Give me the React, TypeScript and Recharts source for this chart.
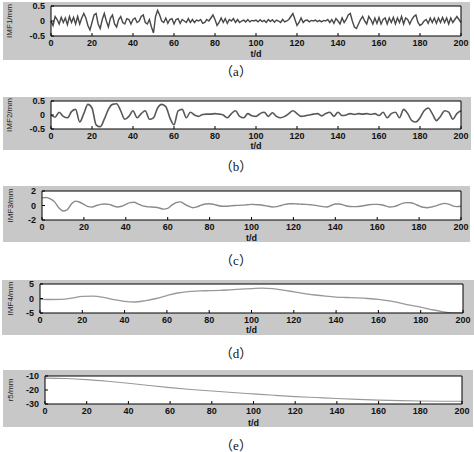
import React from 'react';
import { LineChart, Line, XAxis, YAxis, CartesianGrid } from 'recharts';

const T_TICKS = [0, 20, 40, 60, 80, 100, 120, 140, 160, 180, 200];

// IMF1 (t = 0..200, step 1)
const IMF1 = [
  0.0, -0.15, 0.15, 0.05, -0.1, 0.12, -0.05, 0.1, -0.12, 0.15,
  -0.05, 0.12, -0.1, 0.15, -0.1, 0.1, 0.25, 0.1, -0.15, -0.3,
  -0.05, 0.2, 0.25, -0.1, -0.25, 0.05, 0.25, 0.0, -0.2, 0.1,
  0.2, -0.1, -0.2, 0.05, 0.15, -0.05, -0.1, 0.08, 0.05, -0.1,
  0.05, 0.1, -0.05, 0.0, 0.15, 0.2, -0.05, -0.1, 0.05, -0.2,
  -0.4, 0.15, 0.35, 0.2, 0.0, -0.05, 0.1, -0.08, 0.05, 0.08,
  -0.1, 0.05, 0.08, -0.08, 0.05, 0.0, -0.05, 0.08, -0.05, 0.05,
  -0.05, 0.03, 0.0, 0.05, -0.08, -0.05, 0.05, 0.0, 0.1, 0.2,
  0.05, -0.15, -0.05, 0.1, -0.05, 0.08, -0.08, 0.05, 0.0, 0.08,
  -0.05, 0.05, -0.05, 0.0, 0.03, -0.03, 0.05, -0.03, 0.02, 0.0,
  0.03, -0.03, 0.04, -0.02, 0.02, -0.05, 0.05, -0.02, 0.04, -0.04,
  0.03, 0.0, -0.05, 0.05, -0.03, 0.0, 0.05, 0.15, 0.25, 0.05,
  -0.15, -0.05, 0.1, -0.05, 0.02, 0.03, -0.03, 0.02, 0.0, 0.03,
  -0.02, 0.02, -0.03, 0.02, 0.0, 0.05, -0.05, 0.05, -0.08, 0.08,
  0.0, -0.1, 0.1, -0.05, 0.05, 0.2, 0.25, 0.0, -0.2, -0.25,
  -0.1, 0.05, 0.15, 0.0, -0.1, 0.15, 0.05, -0.1, 0.1, -0.08,
  0.12, -0.1, 0.05, 0.1, -0.1, 0.1, -0.05, 0.12, -0.1, 0.1,
  -0.05, 0.15, -0.1, 0.1, 0.05, -0.1, 0.05, 0.15, 0.2, -0.05,
  -0.15, -0.1, 0.0, 0.05, -0.08, 0.1, -0.05, 0.1, -0.08, 0.1,
  -0.05, 0.12, -0.05, 0.1, -0.1, 0.1, -0.05, 0.05, 0.15, 0.05,
  -0.05,
];

// IMF2 (t = 0..200, step 2)
const IMF2 = [
  0.0, -0.08, 0.1, -0.05, -0.1, 0.12, 0.2, -0.25, 0.05, 0.38,
  0.25, -0.35, -0.42, -0.15, 0.2, 0.38, 0.4, 0.15, -0.15, -0.05,
  0.15, -0.1, 0.05, 0.15, -0.15, -0.1, 0.25, 0.38, 0.3, -0.1,
  -0.35, 0.15, 0.2, -0.1, 0.1, 0.0, -0.05, 0.02, 0.03, 0.03,
  0.05, 0.03, 0.0, -0.1, 0.05, 0.15, -0.05, -0.1, 0.05, -0.03,
  -0.05, 0.05, 0.1, -0.05, 0.08, -0.05, -0.1, -0.05, 0.05, 0.15,
  0.05, -0.05, -0.03, 0.0, 0.03, 0.05, -0.03, 0.05, 0.1, -0.05,
  0.1, -0.02, 0.0, 0.05, 0.02, 0.05, 0.03, 0.05, 0.02, 0.05,
  -0.02, 0.1, -0.1, 0.05, 0.1, -0.1, 0.2, 0.05, -0.2, -0.25,
  -0.1, 0.15, 0.25, 0.05, -0.2, -0.05, 0.15, 0.1, -0.15, 0.05,
  0.15,
];

// IMF3 (t = 0..200, step 2)
const IMF3 = [
  1.05, 1.1, 0.9, 0.5, -0.3, -0.75, -0.6, 0.2, 0.6, 0.45,
  0.15, -0.15, -0.2, 0.0, 0.15, 0.2, 0.15, -0.05, -0.2, -0.1,
  0.15, 0.4, 0.45, 0.2, -0.05, -0.15, -0.2, -0.25, -0.35, -0.5,
  -0.4, 0.05, 0.4, 0.5, 0.2, -0.1, -0.3, -0.2, 0.05, 0.2,
  0.25, 0.15, 0.0, -0.1, -0.1, -0.05, 0.0, 0.02, 0.05, 0.1,
  0.15, 0.12, 0.1, 0.0, -0.1, -0.2, -0.15, 0.0, 0.15, 0.25,
  0.25, 0.2, 0.18, 0.15, 0.1, 0.05, -0.05, -0.15, -0.2, 0.0,
  0.2, 0.2, 0.05, -0.1, -0.15, -0.15, -0.1, 0.0, 0.1, 0.15,
  0.15, 0.1, -0.05, -0.2, -0.15, 0.05, 0.3, 0.4, 0.38, 0.2,
  -0.05, -0.25, -0.3, -0.2, -0.05, 0.15, 0.3, 0.2, -0.05, -0.15,
  -0.1,
];

// IMF4 (t = 0..200, step 5)
const IMF4 = [
  -0.3, -0.35, -0.3, 0.1, 0.7, 0.8, 0.4, -0.4, -1.0, -1.2,
  -0.7, 0.0, 1.0, 1.9, 2.4, 2.6, 2.7, 2.8, 3.0, 3.2,
  3.4, 3.6, 3.4, 2.9, 2.3, 1.7, 1.2, 0.8, 0.5, 0.35,
  0.2, 0.0, -0.3, -0.8, -1.5, -2.3, -3.0, -3.8, -4.5, -4.95,
  -5.0,
];

// r5 (t = 0..200, step 10)
const R5 = [
  -11.5, -11.8, -12.6, -13.8, -15.2, -16.8, -18.3, -19.6, -20.7, -21.8,
  -22.8, -23.8, -24.7, -25.4, -26.1, -26.7, -27.2, -27.6, -27.9, -28.0,
  -28.0,
];

const toData = (vals: number[], step: number) => vals.map((v, i) => ({ t: i * step, v }));

const TICK_FONT = "'Liberation Sans', Arial, sans-serif";

type PanelProps = {
  gray: { l: number; t: number; r: number; b: number };
  plot: { l: number; t: number; r: number; b: number };
  data: { t: number; v: number }[];
  domain: [number, number];
  yTicks: number[];
  yLabel: string;
  yLabelX: number;
  tdY: number;
  caption: string;
  capY: number;
  color: string;
  sw: number;
  curve: 'linear' | 'monotone';
};

function Panel(p: PanelProps) {
  const { gray, plot } = p;
  const W = gray.r - gray.l;
  const H = gray.b - gray.t;
  const leftW = plot.l - gray.l;
  const rightW = gray.r - plot.r;
  const topH = plot.t - gray.t;
  const botH = gray.b - plot.b;
  const tickStyle = { fontFamily: TICK_FONT, fontSize: 9, fontWeight: 700, fill: '#111' };
  const axisLine = { stroke: '#000', strokeWidth: 1 };
  const tickLine = { stroke: '#000', strokeWidth: 1 };
  return (
    <>
      <div
        style={{
          position: 'absolute',
          left: gray.l,
          top: gray.t,
          width: W,
          height: H,
          background: '#c8c8c8',
        }}
      >
        <LineChart width={W} height={H} data={p.data} margin={{ top: 0, right: 0, bottom: 0, left: 0 }}>
          <CartesianGrid fill="#ffffff" horizontal={false} vertical={false} />
          <XAxis
            dataKey="t"
            type="number"
            domain={[0, 200]}
            ticks={T_TICKS}
            interval={0}
            height={botH}
            tickSize={-3}
            tickMargin={7}
            tick={tickStyle}
            axisLine={axisLine}
            tickLine={tickLine}
            label={{
              content: (lp: any) => {
                const vb = lp.viewBox || {};
                return (
                  <text
                    x={vb.x + vb.width / 2}
                    y={vb.y + (p.tdY - plot.b)}
                    textAnchor="middle"
                    dominantBaseline="central"
                    fontFamily={TICK_FONT}
                    fontSize={9}
                    fontWeight={700}
                    fill="#111"
                  >
                    t/d
                  </text>
                );
              },
            }}
          />
          <XAxis
            xAxisId="top"
            orientation="top"
            dataKey="t"
            type="number"
            domain={[0, 200]}
            ticks={T_TICKS}
            interval={0}
            height={topH}
            tickSize={-3}
            tick={false}
            axisLine={axisLine}
            tickLine={tickLine}
          />
          <YAxis
            type="number"
            domain={p.domain}
            ticks={p.yTicks}
            interval={0}
            width={leftW}
            tickSize={-3}
            tickMargin={9}
            tick={tickStyle}
            axisLine={axisLine}
            tickLine={tickLine}
            allowDataOverflow
            label={{
              content: (lp: any) => {
                const vb = lp.viewBox || {};
                const cx = vb.x + (p.yLabelX - gray.l);
                const cy = vb.y + vb.height / 2;
                return (
                  <text
                    x={cx}
                    y={cy}
                    transform={`rotate(-90 ${cx} ${cy})`}
                    textAnchor="middle"
                    dominantBaseline="central"
                    fontFamily={TICK_FONT}
                    fontSize={8}
                    fill="#222"
                  >
                    {p.yLabel}
                  </text>
                );
              },
            }}
          />
          <YAxis
            yAxisId="right"
            orientation="right"
            type="number"
            domain={p.domain}
            ticks={p.yTicks}
            interval={0}
            width={rightW}
            tickSize={-3}
            tick={false}
            axisLine={axisLine}
            tickLine={tickLine}
            allowDataOverflow
          />
          <Line
            dataKey="v"
            type={p.curve}
            stroke={p.color}
            strokeWidth={p.sw}
            dot={false}
            activeDot={false}
            isAnimationActive={false}
          />
        </LineChart>
      </div>
      <div
        style={{
          position: 'absolute',
          left: 186,
          width: 100,
          top: p.capY - 8,
          height: 16,
          lineHeight: '16px',
          textAlign: 'center',
          fontFamily: "'Liberation Serif', 'Noto Sans CJK SC', serif",
          fontSize: 13,
          color: '#111',
        }}
      >
        {p.caption}
      </div>
    </>
  );
}

export default function App() {
  return (
    <div style={{ position: 'absolute', left: 0, top: 0, width: 474, height: 452, background: '#fff', overflow: 'hidden' }}>
      <Panel
        gray={{ l: 3, t: 2, r: 470, b: 60 }}
        plot={{ l: 51, t: 6, r: 461, b: 36 }}
        data={toData(IMF1, 1)}
        domain={[-0.5, 0.5]}
        yTicks={[-0.5, 0, 0.5]}
        yLabel="IMF1/mm"
        yLabelX={9.5}
        tdY={54}
        caption="（a）"
        capY={72}
        color="#484848"
        sw={1.4}
        curve="linear"
      />
      <Panel
        gray={{ l: 3, t: 97, r: 471, b: 150 }}
        plot={{ l: 51, t: 101, r: 461, b: 129 }}
        data={toData(IMF2, 2)}
        domain={[-0.5, 0.5]}
        yTicks={[-0.5, 0, 0.5]}
        yLabel="IMF2/mm"
        yLabelX={9.5}
        tdY={146}
        caption="（b）"
        capY={167}
        color="#585858"
        sw={1.6}
        curve="monotone"
      />
      <Panel
        gray={{ l: 3, t: 186, r: 470, b: 242 }}
        plot={{ l: 42, t: 191, r: 461, b: 220 }}
        data={toData(IMF3, 2)}
        domain={[-2, 2]}
        yTicks={[-2, 0, 2]}
        yLabel="IMF3/mm"
        yLabelX={10}
        tdY={238}
        caption="（c）"
        capY={261}
        color="#8a8a8a"
        sw={1.4}
        curve="monotone"
      />
      <Panel
        gray={{ l: 2, t: 280, r: 474, b: 335 }}
        plot={{ l: 40, t: 284, r: 463, b: 313 }}
        data={toData(IMF4, 5)}
        domain={[-5, 5]}
        yTicks={[-5, 0, 5]}
        yLabel="IMF4/mm"
        yLabelX={10}
        tdY={330}
        caption="（d）"
        capY={354}
        color="#999999"
        sw={1.3}
        curve="monotone"
      />
      <Panel
        gray={{ l: 3, t: 370, r: 473, b: 427 }}
        plot={{ l: 45, t: 376, r: 462, b: 404 }}
        data={toData(R5, 10)}
        domain={[-30, -10]}
        yTicks={[-30, -20, -10]}
        yLabel="r5/mm"
        yLabelX={10.5}
        tdY={423}
        caption="（e）"
        capY={446}
        color="#999999"
        sw={1.1}
        curve="monotone"
      />
    </div>
  );
}
